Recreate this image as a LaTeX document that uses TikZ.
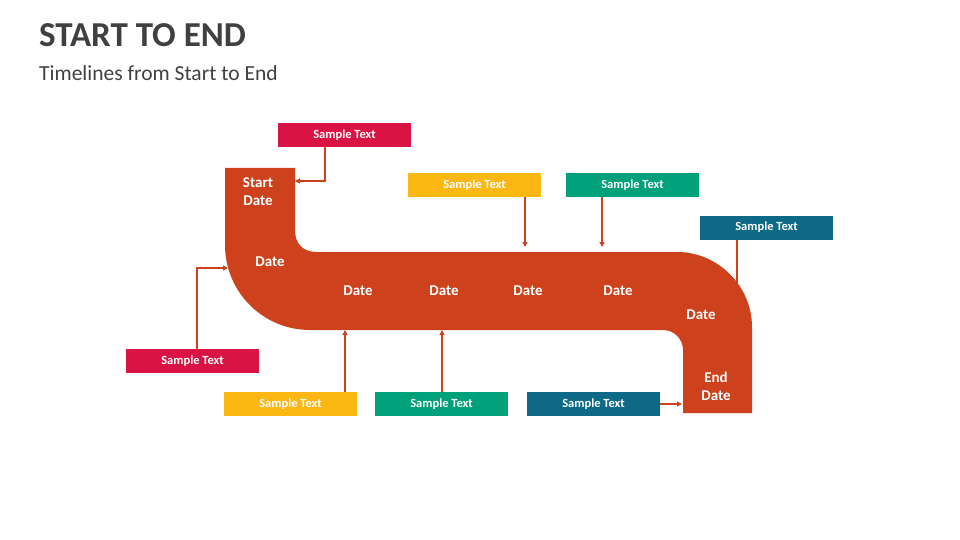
\documentclass[tikz,border=0pt]{standalone}
\usepackage{fontspec}
\setmainfont{Carlito}
\usetikzlibrary{arrows.meta}
\definecolor{band}{HTML}{CD411D}
\definecolor{cred}{HTML}{D91445}
\definecolor{cyel}{HTML}{FDB713}
\definecolor{cgrn}{HTML}{00A07A}
\definecolor{cblu}{HTML}{0D6985}
\definecolor{ttl}{HTML}{404040}
\tikzset{
 sbox/.style={minimum width=133pt,minimum height=24pt,inner sep=0pt,text=white,font=\bfseries\fontsize{12.5}{14}\selectfont},
 dlab/.style={text=white,font=\bfseries\fontsize{15}{18}\selectfont,align=center,inner sep=0pt},
 conn/.style={draw=band,line width=1.3pt,-{Triangle[length=5pt,width=5pt]}}
}
\begin{document}
\begin{tikzpicture}[x=1pt,y=-1pt]
\useasboundingbox (0,0) rectangle (960,540);
\node[anchor=west,text=ttl,font=\bfseries\fontsize{35}{40}\selectfont,inner sep=0pt] (title) at (39,35) {START TO END};
\node[anchor=west,text=ttl,font=\fontsize{21.5}{25}\selectfont,inner sep=0pt] (sub) at (39,73) {Timelines from Start to End};
\fill[band] (225,168) -- (295,168) -- (295,230) .. controls (295,244) and (303,252) .. (317,252) -- (677,252) .. controls (718,252) and (752,286) .. (752,327) -- (752,413) -- (683,413) -- (683,350) .. controls (683,339) and (674,330) .. (663,330) -- (310,330) .. controls (263,330) and (225,292) .. (225,245) -- cycle;
\node[dlab] (d0) at (258,192) {Start\\Date};
\node[dlab] (d1) at (270,262) {Date};
\node[dlab] (d2) at (358,291) {Date};
\node[dlab] (d3) at (444,291) {Date};
\node[dlab] (d4) at (528,291) {Date};
\node[dlab] (d5) at (618,291) {Date};
\node[dlab] (d6) at (701,315) {Date};
\node[dlab] (d7) at (716,386) {End\\Date};
\node[sbox,fill=cred] (b1) at (344.5,135) {Sample Text};
\node[sbox,fill=cyel] (b2) at (474.5,185) {Sample Text};
\node[sbox,fill=cgrn] (b3) at (632.5,185) {Sample Text};
\node[sbox,fill=cblu] (b4) at (766.5,227.5) {Sample Text};
\node[sbox,fill=cred] (b5) at (192.5,361) {Sample Text};
\node[sbox,fill=cyel] (b6) at (290.5,404) {Sample Text};
\node[sbox,fill=cgrn] (b7) at (441.5,404) {Sample Text};
\node[sbox,fill=cblu] (b8) at (593.5,404) {Sample Text};
\coordinate (t1) at (295,181);
\coordinate (t2) at (525,247);
\coordinate (t3) at (602,247);
\coordinate (t4) at (737,290);
\coordinate (t5) at (228,268);
\coordinate (t6) at (345,330);
\coordinate (t7) at (442,330);
\coordinate (t8) at (682,404);
\draw[conn] (b1.south -| 325,0) |- (t1);
\draw[conn] (b2.south -| t2) -- (t2);
\draw[conn] (b3.south -| t3) -- (t3);
\draw[conn] (b4.south -| t4) -- (t4);
\draw[conn] (b5.north -| 197,0) |- (t5);
\draw[conn] (b6.north -| t6) -- (t6);
\draw[conn] (b7.north -| t7) -- (t7);
\draw[conn] (b8.east) -- (t8);
\end{tikzpicture}
\end{document}
